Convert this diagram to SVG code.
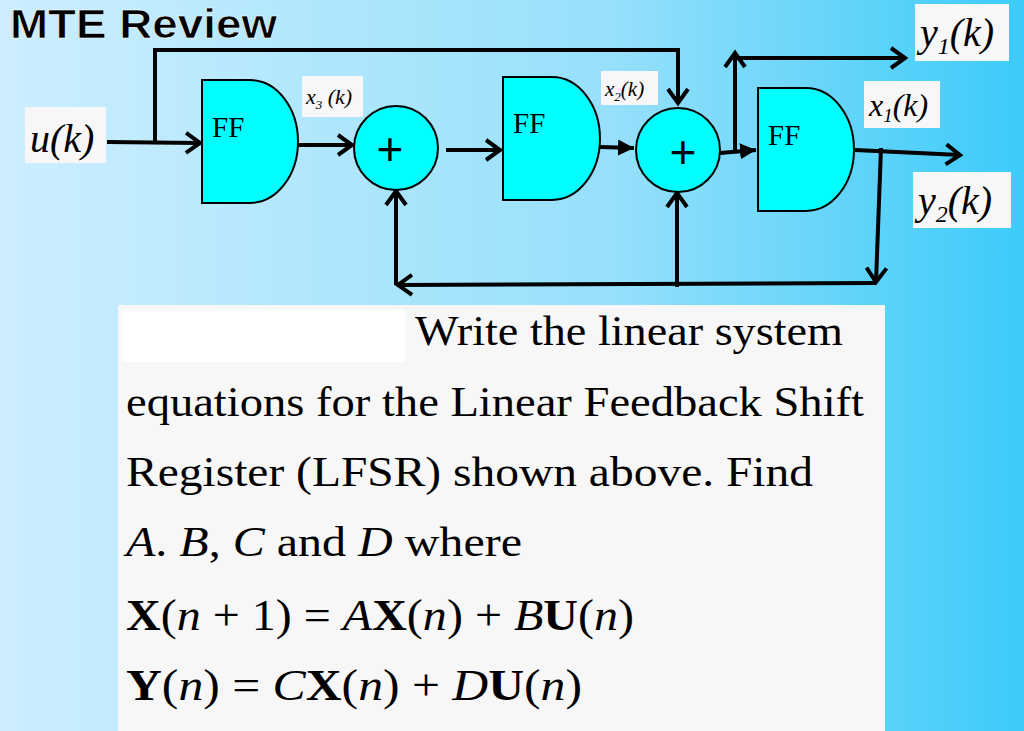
<svg xmlns="http://www.w3.org/2000/svg" width="1024" height="731" viewBox="0 0 1024 731">
<defs>
<linearGradient id="bg" x1="0" y1="0" x2="1" y2="0">
<stop offset="0" stop-color="#cdeeff"/><stop offset="0.6" stop-color="#96e0fb"/><stop offset="1" stop-color="#3ccbf9"/>
</linearGradient>
<marker id="ar" viewBox="-18 -13 20 26" refX="0" refY="0" markerWidth="20" markerHeight="26" markerUnits="userSpaceOnUse" orient="auto" overflow="visible">
<path d="M-14,-10 L0,0 L-14,10" fill="none" stroke="#000" stroke-width="4"/>
</marker>
<marker id="as" viewBox="0 0 10 10" refX="10" refY="5" markerWidth="16" markerHeight="16" markerUnits="userSpaceOnUse" orient="auto">
<path d="M0,0 L10,5 L0,10 Z" fill="#000"/>
</marker>
</defs>
<style>
.ff{fill:#00ffff;stroke:#000;stroke-width:2}
.w{fill:none;stroke:#000;stroke-width:4}
.lb{fill:#f7f7f7}
.m{font-family:"Liberation Serif",serif;font-style:italic;fill:#000}
.r{font-family:"Liberation Serif",serif;fill:#000}
.p{font-family:"Liberation Sans",sans-serif;fill:#000;font-size:46px}
</style>
<rect width="1024" height="731" fill="url(#bg)"/>
<text x="10" y="38" font-family="Liberation Sans,sans-serif" font-weight="bold" font-size="40" fill="#000" stroke="#fff" stroke-width="0.6" textLength="267" lengthAdjust="spacingAndGlyphs">MTE Review</text>
<g id="connectors">
<polyline class="w" points="155,143 155,50 678,50 678,103" marker-end="url(#ar)"/>
<line class="w" x1="107" y1="142" x2="200" y2="143" marker-end="url(#ar)"/>
<line class="w" x1="298" y1="145" x2="352" y2="145" marker-end="url(#ar)"/>
<line class="w" x1="446" y1="150" x2="500" y2="150" marker-end="url(#ar)"/>
<line class="w" x1="600" y1="147" x2="634" y2="148" marker-end="url(#as)"/>
<line class="w" x1="720" y1="153" x2="756" y2="150" marker-end="url(#as)"/>
<line class="w" x1="735" y1="150" x2="735" y2="53" marker-end="url(#ar)"/>
<line class="w" x1="735" y1="58" x2="905" y2="58" marker-end="url(#ar)"/>
<line class="w" x1="855" y1="150" x2="960" y2="155" marker-end="url(#ar)"/>
<line class="w" x1="881" y1="148" x2="876" y2="282" marker-end="url(#ar)"/>
<line class="w" x1="876" y1="283" x2="398" y2="285" marker-end="url(#ar)"/>
<line class="w" x1="396" y1="285" x2="396" y2="191" marker-end="url(#ar)"/>
<line class="w" x1="677" y1="287" x2="677" y2="193" marker-end="url(#ar)"/>
</g>
<g id="ff1"><path class="ff" d="M202,80 H250 A48,61.5 0 0 1 250,203 H202 Z"/><text class="r" x="212" y="137" font-size="29">FF</text></g>
<g id="sum1"><circle class="ff" cx="396" cy="148" r="42"/><text class="p" x="390" y="165" text-anchor="middle">+</text></g>
<g id="ff2"><path class="ff" d="M503,77 H552 A48,61.5 0 0 1 552,200 H503 Z"/><text class="r" x="513" y="133" font-size="29">FF</text></g>
<g id="sum2"><circle class="ff" cx="678" cy="150" r="42"/><text class="p" x="683" y="168" text-anchor="middle">+</text></g>
<g id="ff3"><path class="ff" d="M758,88 H806 A48,61.5 0 0 1 806,211 H758 Z"/><text class="r" x="768" y="145" font-size="29">FF</text></g>
<g id="lab-u"><rect class="lb" x="25" y="107" width="81" height="56"/><text class="m" x="30" y="152" font-size="40">u(k)</text></g>
<g id="lab-x3"><rect class="lb" x="302" y="76" width="61" height="41"/><text class="m" x="306" y="104" font-size="22">x<tspan font-size="13" dy="5">3</tspan><tspan dy="-5"> (k)</tspan></text></g>
<g id="lab-x2"><rect class="lb" x="601" y="71" width="57" height="34"/><text class="m" x="605" y="96" font-size="21">x<tspan font-size="13" dy="5">2</tspan><tspan dy="-5">(k)</tspan></text></g>
<g id="lab-x1"><rect class="lb" x="864" y="81" width="76" height="47"/><text class="m" x="869" y="116" font-size="32">x<tspan font-size="19" dy="6">1</tspan><tspan dy="-6">(k)</tspan></text></g>
<g id="lab-y1"><rect class="lb" x="915" y="4" width="94" height="57"/><text class="m" x="920" y="46" font-size="40">y<tspan font-size="24" dy="8">1</tspan><tspan dy="-8">(k)</tspan></text></g>
<g id="lab-y2"><rect class="lb" x="913" y="172" width="98" height="56"/><text class="m" x="918" y="214" font-size="40">y<tspan font-size="24" dy="8">2</tspan><tspan dy="-8">(k)</tspan></text></g>
<g id="question">
<rect x="118" y="305" width="767" height="426" fill="#f7f7f7"/>
<rect x="122" y="310" width="283" height="52" fill="#fff"/>
<g class="r" font-size="42">
<text x="415" y="345" textLength="428" lengthAdjust="spacingAndGlyphs">Write the linear system</text>
<text x="126" y="416" textLength="738" lengthAdjust="spacingAndGlyphs">equations for the Linear Feedback Shift</text>
<text x="126" y="486" textLength="687" lengthAdjust="spacingAndGlyphs">Register (LFSR) shown above.  Find</text>
<text x="126" y="556" textLength="396" lengthAdjust="spacingAndGlyphs"><tspan font-style="italic">A</tspan>. <tspan font-style="italic">B</tspan>, <tspan font-style="italic">C</tspan> and <tspan font-style="italic">D</tspan> where</text>
<text x="126" y="630" textLength="508" font-size="44" lengthAdjust="spacingAndGlyphs"><tspan font-weight="bold">X</tspan>(<tspan font-style="italic">n</tspan> + 1) = <tspan font-style="italic">A</tspan><tspan font-weight="bold">X</tspan>(<tspan font-style="italic">n</tspan>) + <tspan font-style="italic">B</tspan><tspan font-weight="bold">U</tspan>(<tspan font-style="italic">n</tspan>)</text>
<text x="126" y="700" textLength="456" font-size="44" lengthAdjust="spacingAndGlyphs"><tspan font-weight="bold">Y</tspan>(<tspan font-style="italic">n</tspan>) = <tspan font-style="italic">C</tspan><tspan font-weight="bold">X</tspan>(<tspan font-style="italic">n</tspan>) + <tspan font-style="italic">D</tspan><tspan font-weight="bold">U</tspan>(<tspan font-style="italic">n</tspan>)</text>
</g>
</g>
</svg>
